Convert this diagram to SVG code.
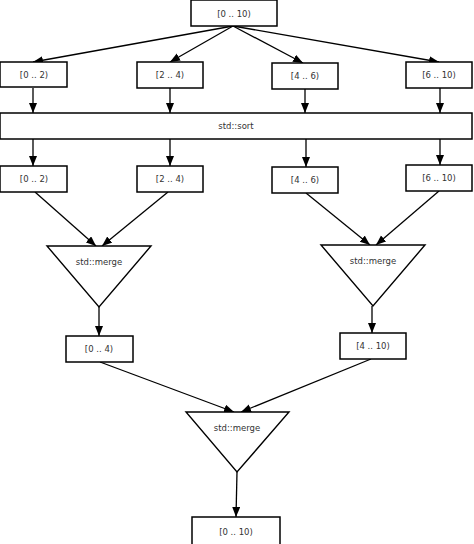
<svg xmlns="http://www.w3.org/2000/svg" width="474" height="544" viewBox="0 0 474 544">
<defs>
<style>
.box{fill:#fff;stroke:#000;stroke-width:1.5}
.tri{fill:#fff;stroke:#000;stroke-width:1.4}
.lbl{font-family:"DejaVu Sans",sans-serif;font-size:8.5px;fill:#333;text-anchor:middle}
.edge{stroke:#000;stroke-width:1.3;fill:none;marker-end:url(#ah)}
</style>
<marker id="ah" markerUnits="userSpaceOnUse" markerWidth="11" markerHeight="9" refX="10" refY="4" orient="auto">
<path d="M0,0 L10,4 L0,8 z" fill="#000"/>
</marker>
</defs>
<rect width="474" height="544" fill="#fff"/>
<g id="connectors">
<line class="edge" x1="233" y1="26" x2="33" y2="62"/>
<line class="edge" x1="233" y1="26" x2="170" y2="62"/>
<line class="edge" x1="233" y1="26" x2="303" y2="63"/>
<line class="edge" x1="233" y1="26" x2="439" y2="62"/>
<line class="edge" x1="33" y1="88" x2="33" y2="113"/>
<line class="edge" x1="170" y1="88" x2="170" y2="113"/>
<line class="edge" x1="305" y1="89" x2="305" y2="113"/>
<line class="edge" x1="440" y1="88" x2="440" y2="113"/>
<line class="edge" x1="33" y1="139" x2="33" y2="166"/>
<line class="edge" x1="170" y1="139" x2="170" y2="166"/>
<line class="edge" x1="306" y1="139" x2="306" y2="167"/>
<line class="edge" x1="440" y1="139" x2="440" y2="165"/>
<line class="edge" x1="35" y1="192" x2="96" y2="246"/>
<line class="edge" x1="168" y1="192" x2="102" y2="246"/>
<line class="edge" x1="306" y1="193" x2="370" y2="245"/>
<line class="edge" x1="439" y1="191" x2="376" y2="245"/>
<line class="edge" x1="99" y1="307" x2="99" y2="336"/>
<line class="edge" x1="372" y1="306" x2="372" y2="333"/>
<line class="edge" x1="100" y1="362" x2="234" y2="412"/>
<line class="edge" x1="371" y1="359" x2="241" y2="412"/>
<line class="edge" x1="237" y1="472" x2="236" y2="517"/>
</g>
<g id="n-src"><rect class="box" x="191" y="0" width="86" height="26"/><text class="lbl" x="234" y="17">[0 .. 10)</text></g>
<g id="n-a02"><rect class="box" x="0" y="62" width="67" height="25"/><text class="lbl" x="34" y="78">[0 .. 2)</text></g>
<g id="n-a24"><rect class="box" x="137" y="62" width="66" height="26"/><text class="lbl" x="170" y="78">[2 .. 4)</text></g>
<g id="n-a46"><rect class="box" x="272" y="63" width="66" height="26"/><text class="lbl" x="305" y="79">[4 .. 6)</text></g>
<g id="n-a610"><rect class="box" x="406" y="62" width="66" height="26"/><text class="lbl" x="439" y="78">[6 .. 10)</text></g>
<g id="n-sort"><rect class="box" x="0" y="113" width="472" height="26"/><text class="lbl" x="236" y="129">std::sort</text></g>
<g id="n-b02"><rect class="box" x="0" y="166" width="67" height="26"/><text class="lbl" x="34" y="182">[0 .. 2)</text></g>
<g id="n-b24"><rect class="box" x="137" y="166" width="66" height="26"/><text class="lbl" x="170" y="182">[2 .. 4)</text></g>
<g id="n-b46"><rect class="box" x="272" y="167" width="66" height="26"/><text class="lbl" x="305" y="183">[4 .. 6)</text></g>
<g id="n-b610"><rect class="box" x="406" y="165" width="66" height="26"/><text class="lbl" x="439" y="181">[6 .. 10)</text></g>
<g id="n-merge1"><polygon class="tri" points="47,246 151,246 99,307"/><text class="lbl" x="99" y="265">std::merge</text></g>
<g id="n-merge2"><polygon class="tri" points="321,245 425,245 373,306"/><text class="lbl" x="373" y="264">std::merge</text></g>
<g id="n-c04"><rect class="box" x="66" y="336" width="67" height="26"/><text class="lbl" x="99" y="352">[0 .. 4)</text></g>
<g id="n-c410"><rect class="box" x="340" y="333" width="66" height="26"/><text class="lbl" x="373" y="349">[4 .. 10)</text></g>
<g id="n-merge3"><polygon class="tri" points="186,412 289,412 237,472"/><text class="lbl" x="237" y="431">std::merge</text></g>
<g id="n-out"><rect class="box" x="192" y="517" width="88" height="28"/><text class="lbl" x="236" y="535">[0 .. 10)</text></g>
</svg>
